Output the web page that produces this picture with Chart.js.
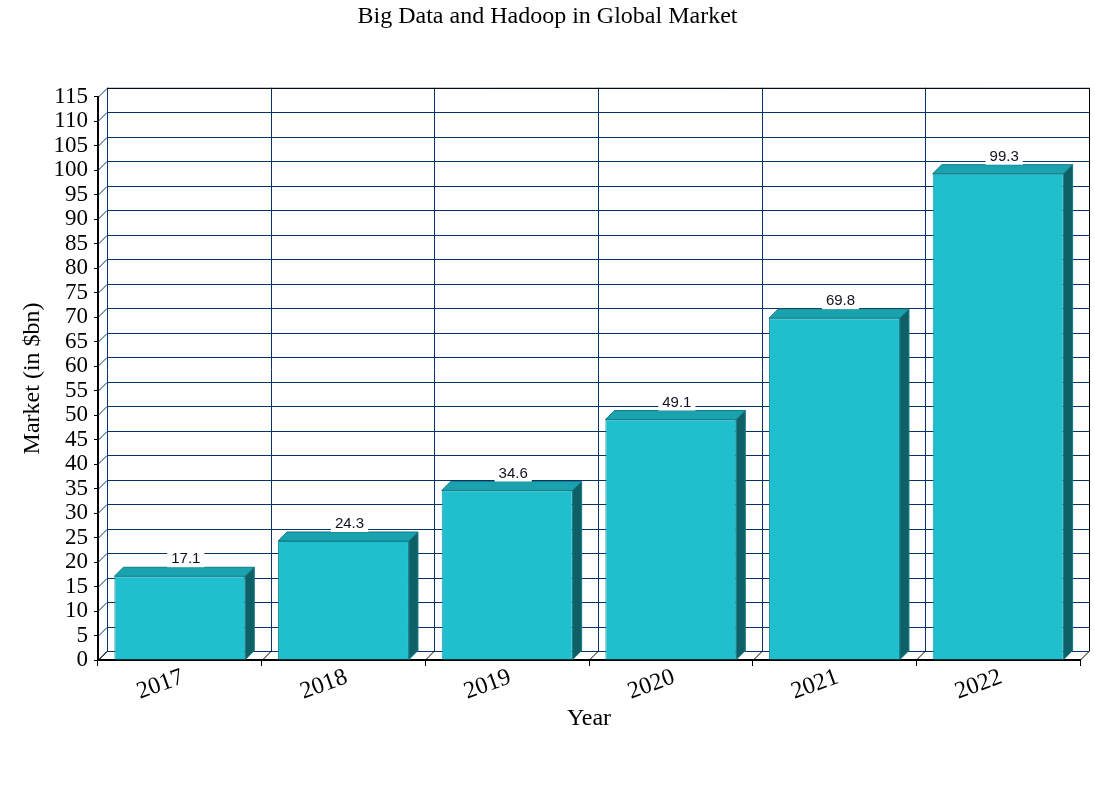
<!DOCTYPE html>
<html>
<head>
<meta charset="utf-8">
<script src="https://cdn.jsdelivr.net/npm/chart.js@4/dist/chart.umd.min.js"></script>
<style>
  html, body { margin: 0; padding: 0; background: #fff; }
  #wrap { width: 1095px; height: 805px; }
</style>
</head>
<body>
<div id="wrap"><canvas id="myChart" width="1095" height="805"></canvas></div>
<script>
const years = ['2017', '2018', '2019', '2020', '2021', '2022'];
const market = [17.1, 24.3, 34.6, 49.1, 69.8, 99.3];

const D = 9; // depth of the fake 3d
const gridColor = '#063369';
const serif = '"Liberation Serif", "Times New Roman", serif';

const wall = {
    id: 'wall',
    beforeDatasetsDraw(chart) {
        const { ctx, chartArea: a, scales: { x, y } } = chart;
        ctx.save();
        ctx.lineWidth = 1;
        // horizontal grid on back wall + little diagonals from the axis
        ctx.strokeStyle = gridColor;
        y.ticks.forEach(t => {
            const py = Math.round(y.getPixelForValue(t.value)) + 0.5;
            ctx.beginPath();
            ctx.moveTo(a.left, py);
            ctx.lineTo(a.left + D, py - D);
            ctx.lineTo(a.right + D, py - D);
            ctx.stroke();
        });
        // vertical lines at category edges
        for (let i = 0; i <= years.length; i++) {
            const px = Math.round(x.getPixelForValue(i - 0.5)) + 0.5;
            ctx.strokeStyle = (i == years.length) ? '#000' : gridColor;
            ctx.beginPath();
            ctx.moveTo(px + D, a.top - D);
            ctx.lineTo(px + D, a.bottom - D);
            ctx.stroke();
            // floor diagonals
            ctx.strokeStyle = '#000';
            ctx.beginPath();
            ctx.moveTo(px, a.bottom);
            ctx.lineTo(px + D, a.bottom - D);
            ctx.stroke();
        }
        // top edge
        ctx.strokeStyle = '#000';
        ctx.beginPath();
        ctx.moveTo(a.left + D, a.top - D + 0.5);
        ctx.lineTo(a.right + D, a.top - D + 0.5);
        ctx.stroke();
        ctx.restore();
    },
    afterDatasetsDraw(chart) {
        const { ctx } = chart;
        const meta = chart.getDatasetMeta(0);
        ctx.save();
        meta.data.forEach((bar, i) => {
            const l = bar.x - bar.width / 2, r = bar.x + bar.width / 2;
            // top face
            ctx.fillStyle = '#1aa3ae';
            ctx.strokeStyle = '#117c86';
            ctx.lineWidth = 1;
            ctx.beginPath();
            ctx.moveTo(l, bar.y);
            ctx.lineTo(l + D, bar.y - D);
            ctx.lineTo(r + D, bar.y - D);
            ctx.lineTo(r, bar.y);
            ctx.closePath();
            ctx.fill();
            ctx.stroke();
            // side face
            ctx.fillStyle = '#0e6066';
            ctx.beginPath();
            ctx.moveTo(r, bar.y);
            ctx.lineTo(r + D, bar.y - D);
            ctx.lineTo(r + D, bar.base - D);
            ctx.lineTo(r, bar.base);
            ctx.closePath();
            ctx.fill();
            ctx.stroke();

            // value label
            const txt = market[i].toFixed(1);
            ctx.font = '15px "Liberation Sans", Arial, sans-serif';
            const w = ctx.measureText(txt).width + 8;
            const cx = bar.x + 6, cy = bar.y - D - 8;
            ctx.fillStyle = '#fff';
            ctx.fillRect(cx - w / 2, cy - 8, w, 16);
            ctx.fillStyle = '#111122';
            ctx.textAlign = 'center';
            ctx.textBaseline = 'middle';
            ctx.fillText(txt, cx, cy);
        });
        ctx.restore();
    }
};

const data = {
    labels: years,
    datasets: [{
        label: 'Market',
        data: market,
        backgroundColor: '#1fbfcf',
        borderColor: '#178f9a',
        borderWidth: 1,
        barPercentage: 0.8,
        categoryPercentage: 1
    }]
};

const config = {
    type: 'bar',
    data: data,
    options: {
        responsive: false,
        animation: false,
        layout: { padding: { left: 15, right: 15, top: 0, bottom: 0 } },
        plugins: {
            legend: { display: false },
            tooltip: { enabled: false },
            title: {
                display: true,
                text: 'Big Data and Hadoop in Global Market',
                color: '#000',
                font: { family: serif, size: 24, weight: 'normal' },
                padding: { top: 2, bottom: 66 }
            }
        },
        scales: {
            x: {
                afterFit: s => { s.height = 145; },
                grid: { drawOnChartArea: false, drawTicks: true, tickLength: 6, color: '#000' },
                border: { display: true, color: '#000', width: 2 },
                ticks: {
                    color: '#000',
                    font: { family: serif, size: 24 },
                    minRotation: 20,
                    maxRotation: 20,
                    labelOffset: 3,
                    padding: -3
                },
                title: {
                    display: true,
                    text: 'Year',
                    color: '#000',
                    font: { family: serif, size: 24 },
                    padding: { top: 0, bottom: 72 }
                }
            },
            y: {
                min: 0,
                max: 115,
                afterFit: s => { s.width = 83; },
                grid: { drawOnChartArea: false, drawTicks: true, tickLength: 4, color: '#000' },
                border: { display: true, color: '#000', width: 2 },
                ticks: {
                    stepSize: 5,
                    autoSkip: false,
                    color: '#000',
                    font: { family: serif, size: 23 },
                    padding: 6
                },
                title: {
                    display: true,
                    text: 'Market (in $bn)',
                    color: '#000',
                    font: { family: serif, size: 24 },
                    padding: { top: 3, bottom: 0 }
                }
            }
        }
    },
    plugins: [wall]
};

const myChart = new Chart(document.getElementById('myChart'), config);
</script>
</body>
</html>
